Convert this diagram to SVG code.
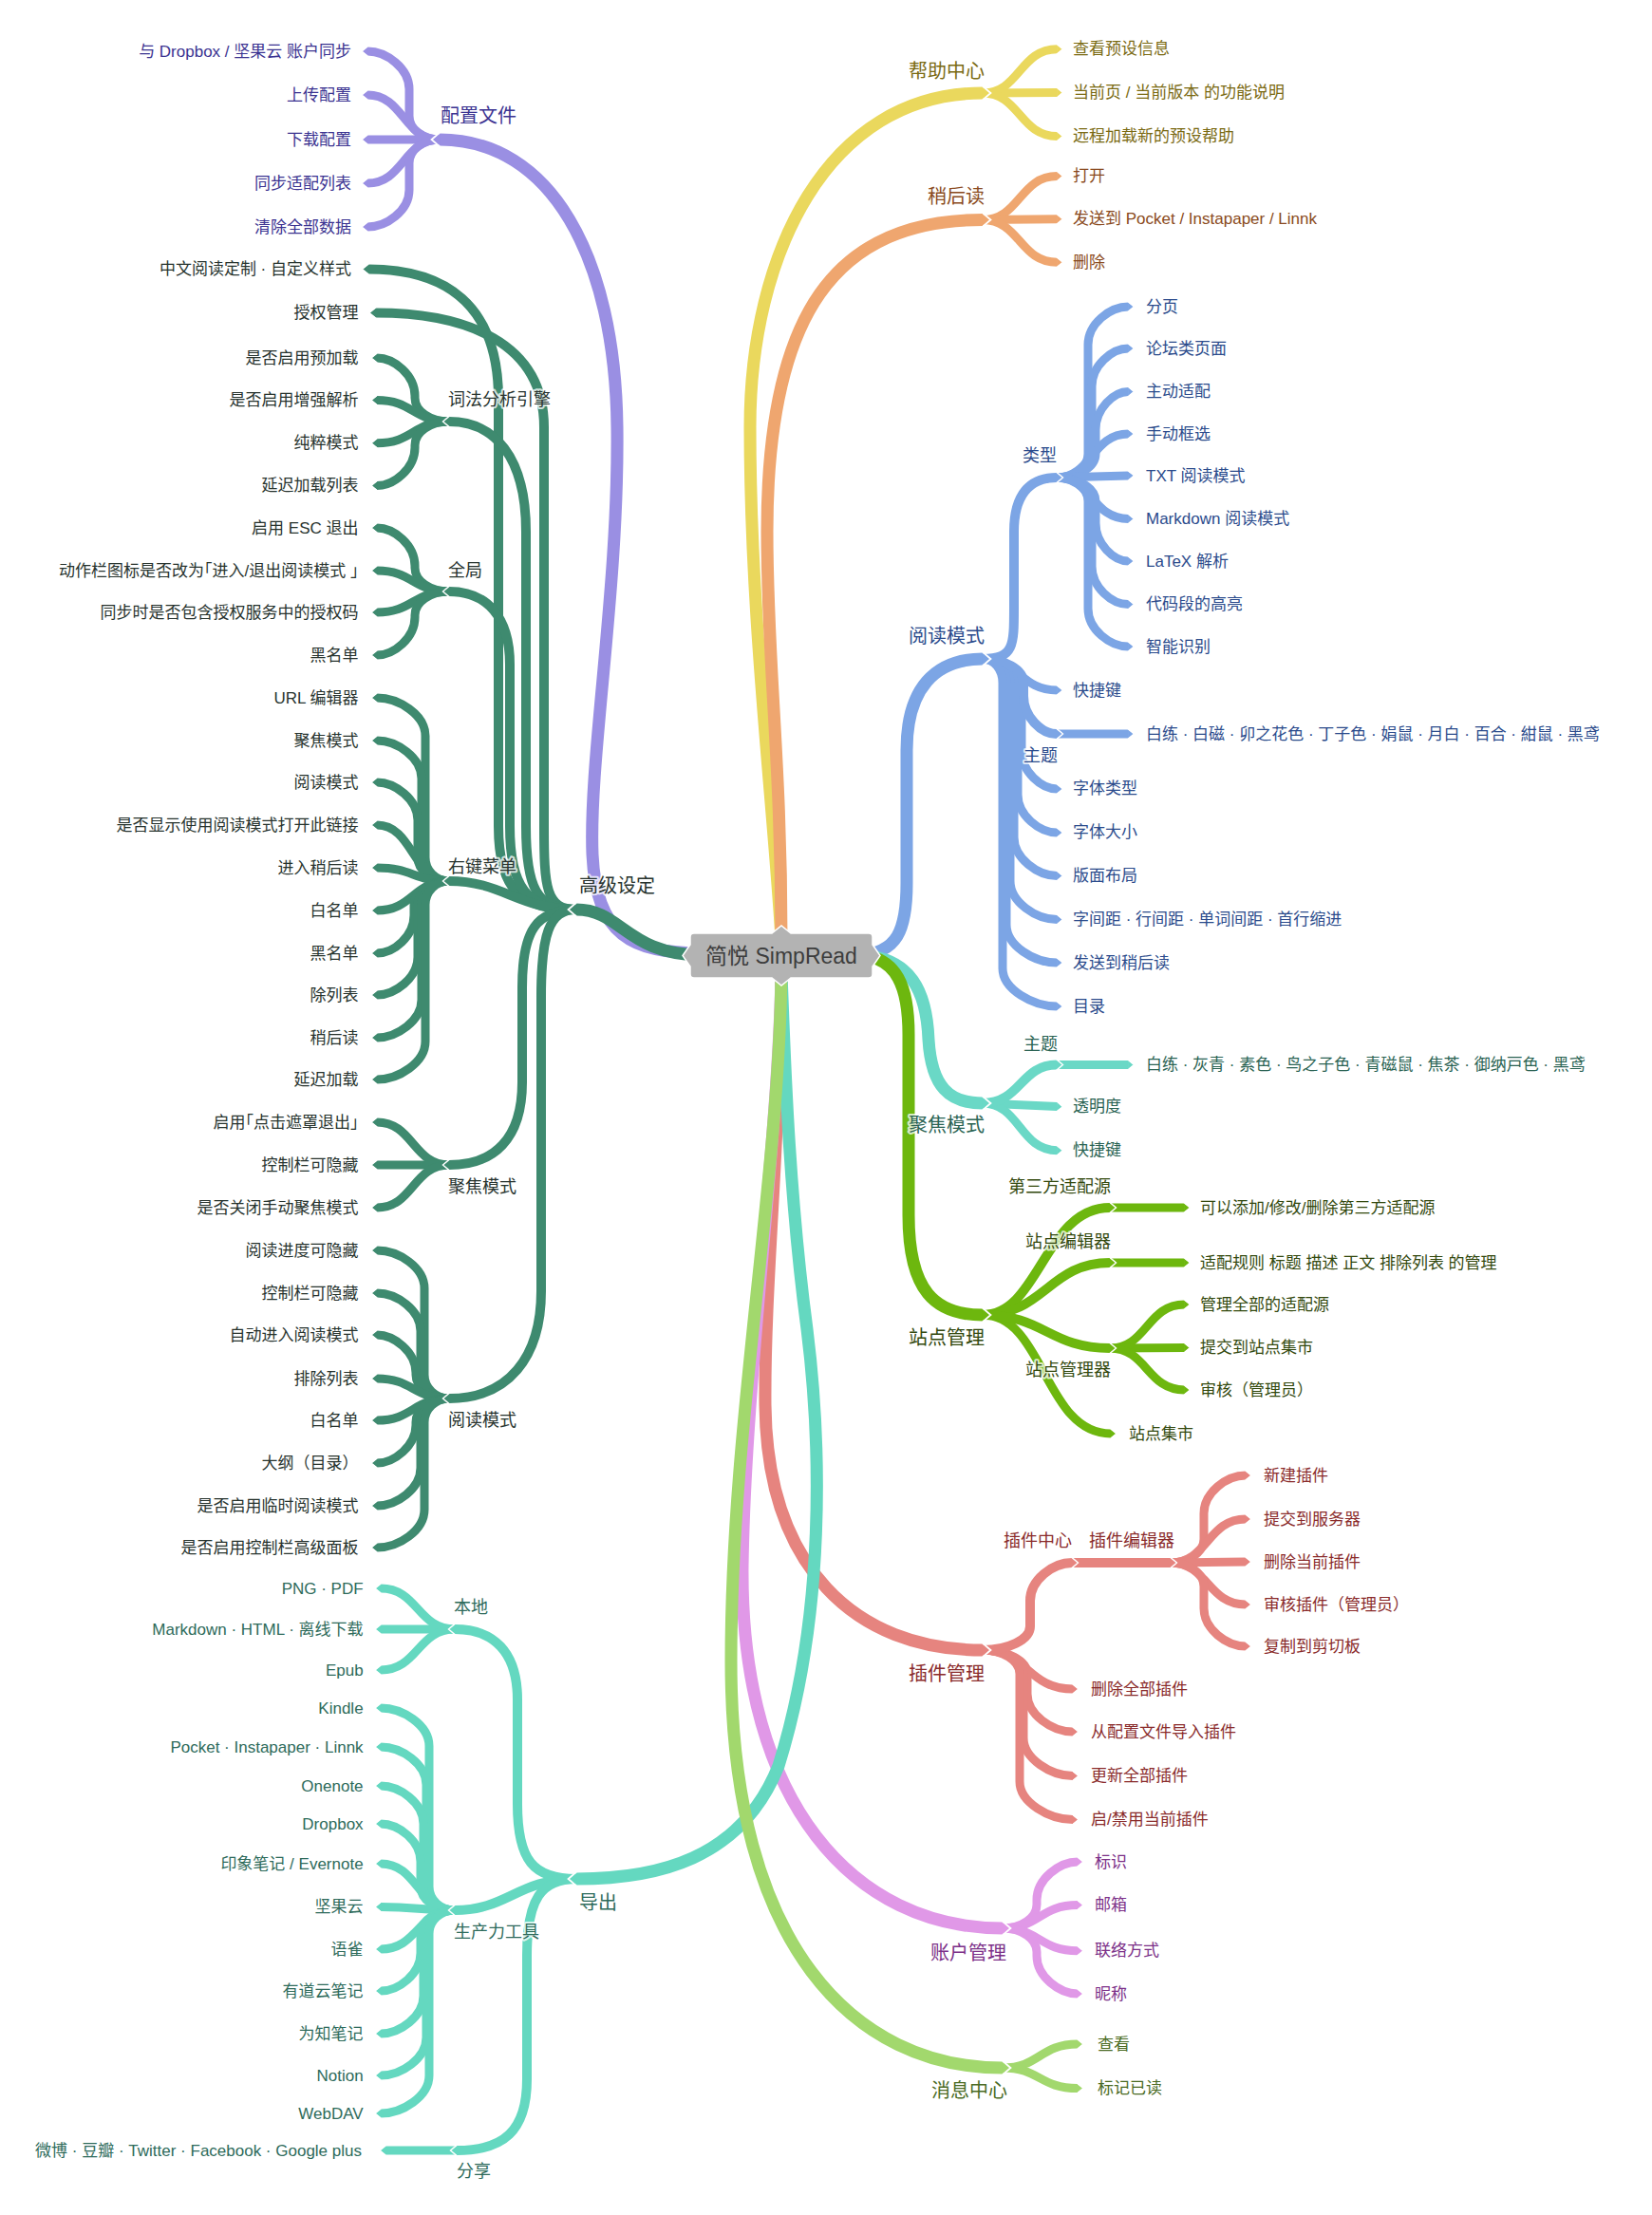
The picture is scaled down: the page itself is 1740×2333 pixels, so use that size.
<svg xmlns="http://www.w3.org/2000/svg" width="1740" height="2333" viewBox="0 0 1740 2333">
<style>
.t{font-family:"Liberation Sans","Noto Sans CJK SC",sans-serif;dominant-baseline:central}
.f17{font-size:17px}.f18{font-size:18px}.f20{font-size:20px}
.e{text-anchor:end}
.hw{font-feature-settings:"halt"}
.h{paint-order:stroke;stroke:#fff;stroke-width:4px;stroke-opacity:.75;stroke-linejoin:round}
#connectors path{fill:none;stroke-linecap:butt}
.w13{stroke-width:13px}.w10{stroke-width:10px}.w9{stroke-width:9px}
.pu{stroke:#9a8fe3;marker-end:url(#mpu)}
.dg{stroke:#3e8a6f;marker-end:url(#mdg)}
.te{stroke:#64d8c0;marker-end:url(#mte)}
.ye{stroke:#ead85d;marker-end:url(#mye)}
.or{stroke:#efa66f;marker-end:url(#mor)}
.bl{stroke:#7ca5e5;marker-end:url(#mbl)}
.tr{stroke:#6ad8c6;marker-end:url(#mtr)}
.gr{stroke:#6db70e;marker-end:url(#mgr)}
.rd{stroke:#e6847f;marker-end:url(#mrd)}
.vi{stroke:#e098e7;marker-end:url(#mvi)}
.lg{stroke:#a2d86d;marker-end:url(#mlg)}
.tpu{fill:#3b3391}.tdg{fill:#27332e}.tte{fill:#2e6b5b}.tye{fill:#7a6a12}.tor{fill:#8a4a20}
.tbl{fill:#2b4b8c}.ttr{fill:#2a6353}.tgr{fill:#33490e}.trd{fill:#8a2b2b}.tvi{fill:#7c3088}.tlg{fill:#4a6b24}
.wt{fill:none;stroke:#fff;stroke-width:.14}
</style>
<defs>
<marker id="mpu" markerUnits="strokeWidth" orient="auto" overflow="visible" markerWidth="1" markerHeight="1"><path d="M-0.05,-0.5L0.65,0L-0.05,0.5Z" fill="#9a8fe3"/><path class="wt" d="M-0.1,-0.64L0.65,0L-0.1,0.64"/></marker>
<marker id="mdg" markerUnits="strokeWidth" orient="auto" overflow="visible" markerWidth="1" markerHeight="1"><path d="M-0.05,-0.5L0.65,0L-0.05,0.5Z" fill="#3e8a6f"/><path class="wt" d="M-0.1,-0.64L0.65,0L-0.1,0.64"/></marker>
<marker id="mte" markerUnits="strokeWidth" orient="auto" overflow="visible" markerWidth="1" markerHeight="1"><path d="M-0.05,-0.5L0.65,0L-0.05,0.5Z" fill="#64d8c0"/><path class="wt" d="M-0.1,-0.64L0.65,0L-0.1,0.64"/></marker>
<marker id="mye" markerUnits="strokeWidth" orient="auto" overflow="visible" markerWidth="1" markerHeight="1"><path d="M-0.05,-0.5L0.65,0L-0.05,0.5Z" fill="#ead85d"/><path class="wt" d="M-0.1,-0.64L0.65,0L-0.1,0.64"/></marker>
<marker id="mor" markerUnits="strokeWidth" orient="auto" overflow="visible" markerWidth="1" markerHeight="1"><path d="M-0.05,-0.5L0.65,0L-0.05,0.5Z" fill="#efa66f"/><path class="wt" d="M-0.1,-0.64L0.65,0L-0.1,0.64"/></marker>
<marker id="mbl" markerUnits="strokeWidth" orient="auto" overflow="visible" markerWidth="1" markerHeight="1"><path d="M-0.05,-0.5L0.65,0L-0.05,0.5Z" fill="#7ca5e5"/><path class="wt" d="M-0.1,-0.64L0.65,0L-0.1,0.64"/></marker>
<marker id="mtr" markerUnits="strokeWidth" orient="auto" overflow="visible" markerWidth="1" markerHeight="1"><path d="M-0.05,-0.5L0.65,0L-0.05,0.5Z" fill="#6ad8c6"/><path class="wt" d="M-0.1,-0.64L0.65,0L-0.1,0.64"/></marker>
<marker id="mgr" markerUnits="strokeWidth" orient="auto" overflow="visible" markerWidth="1" markerHeight="1"><path d="M-0.05,-0.5L0.65,0L-0.05,0.5Z" fill="#6db70e"/><path class="wt" d="M-0.1,-0.64L0.65,0L-0.1,0.64"/></marker>
<marker id="mrd" markerUnits="strokeWidth" orient="auto" overflow="visible" markerWidth="1" markerHeight="1"><path d="M-0.05,-0.5L0.65,0L-0.05,0.5Z" fill="#e6847f"/><path class="wt" d="M-0.1,-0.64L0.65,0L-0.1,0.64"/></marker>
<marker id="mvi" markerUnits="strokeWidth" orient="auto" overflow="visible" markerWidth="1" markerHeight="1"><path d="M-0.05,-0.5L0.65,0L-0.05,0.5Z" fill="#e098e7"/><path class="wt" d="M-0.1,-0.64L0.65,0L-0.1,0.64"/></marker>
<marker id="mlg" markerUnits="strokeWidth" orient="auto" overflow="visible" markerWidth="1" markerHeight="1"><path d="M-0.05,-0.5L0.65,0L-0.05,0.5Z" fill="#a2d86d"/><path class="wt" d="M-0.1,-0.64L0.65,0L-0.1,0.64"/></marker>
</defs>
<rect width="1740" height="2333" fill="#fff"/>
<g id="connectors">
<g id="leaves">
<path class="pu w9" d="M463,147C445,147 431,136 431,122L431,94C431,72 407,54 387,54"/>
<path class="pu w9" d="M463,147C425,147 425,100 387,100"/>
<path class="pu w9" d="M463,147L387,147"/>
<path class="pu w9" d="M463,147C425,147 425,193 387,193"/>
<path class="pu w9" d="M463,147C445,147 431,158 431,172L431,200C431,222 407,239 387,239"/>
<path class="dg w9" d="M473,444C453,444 437,433 437,419L437,417C437,395 415,377 397,377"/>
<path class="dg w9" d="M473,444C435,444 435,421.5 397,421.5"/>
<path class="dg w9" d="M473,444C435,444 435,466.7 397,466.7"/>
<path class="dg w9" d="M473,444C453,444 437,455 437,469L437,471.5C437,493.5 415,511.5 397,511.5"/>
<path class="dg w9" d="M473,623C453,623 437,612 437,598L437,596C437,574 415,556 397,556"/>
<path class="dg w9" d="M473,623C435,623 435,601 397,601"/>
<path class="dg w9" d="M473,623C435,623 435,645 397,645"/>
<path class="dg w9" d="M473,623C453,623 437,634 437,648L437,650C437,672 415,690 397,690"/>
<path class="dg w9" d="M473,928C459,928 448,917 448,903L448,775C448,753 420,735 397,735"/>
<path class="dg w9" d="M473,928C457,928 444,917 444,903L444,820C444,798 418,780 397,780"/>
<path class="dg w9" d="M473,928C455,928 440,917 440,903L440,864C440,842 416,824 397,824"/>
<path class="dg w9" d="M473,928C435,928 435,869 397,869"/>
<path class="dg w9" d="M473,928C435,928 435,914 397,914"/>
<path class="dg w9" d="M473,928C435,928 435,959 397,959"/>
<path class="dg w9" d="M473,928C453,928 436,939 436,953L436,964C436,986 415,1004 397,1004"/>
<path class="dg w9" d="M473,928C455,928 440,939 440,953L440,1008C440,1030 416,1048 397,1048"/>
<path class="dg w9" d="M473,928C457,928 444,939 444,953L444,1053C444,1075 418,1093 397,1093"/>
<path class="dg w9" d="M473,928C459,928 448,939 448,953L448,1097C448,1119 420,1137 397,1137"/>
<path class="dg w9" d="M473,1227C435,1227 435,1182 397,1182"/>
<path class="dg w9" d="M473,1227L397,1227"/>
<path class="dg w9" d="M473,1227C435,1227 435,1272 397,1272"/>
<path class="dg w9" d="M473,1473C459,1473 447,1462 447,1448L447,1357C447,1335 420,1317 397,1317"/>
<path class="dg w9" d="M473,1473C457,1473 443,1462 443,1448L443,1402C443,1380 418,1362 397,1362"/>
<path class="dg w9" d="M473,1473C454,1473 438,1462 438,1448L438,1446C438,1424 415,1406 397,1406"/>
<path class="dg w9" d="M473,1473C435,1473 435,1452 397,1452"/>
<path class="dg w9" d="M473,1473C435,1473 435,1496 397,1496"/>
<path class="dg w9" d="M473,1473C454,1473 438,1484 438,1498L438,1501C438,1523 415,1541 397,1541"/>
<path class="dg w9" d="M473,1473C457,1473 443,1484 443,1498L443,1546C443,1568 418,1586 397,1586"/>
<path class="dg w9" d="M473,1473C459,1473 447,1484 447,1498L447,1590C447,1612 420,1630 397,1630"/>
<path class="te w9" d="M479,1716C440,1716 440,1673 401,1673"/>
<path class="te w9" d="M479,1716L401,1716"/>
<path class="te w9" d="M479,1716C440,1716 440,1759 401,1759"/>
<path class="te w9" d="M479,2012C464,2012 452,2001 452,1987L452,1839C452,1817 424,1799 401,1799"/>
<path class="te w9" d="M479,2012C462,2012 449,2001 449,1987L449,1880C449,1858 423,1840 401,1840"/>
<path class="te w9" d="M479,2012C461,2012 446,2001 446,1987L446,1921C446,1899 421,1881 401,1881"/>
<path class="te w9" d="M479,2012C459,2012 443,2001 443,1987L443,1961C443,1939 420,1921 401,1921"/>
<path class="te w9" d="M479,2012C440,2012 440,1963 401,1963"/>
<path class="te w9" d="M479,2012C440,2012 440,2008.5 401,2008.5"/>
<path class="te w9" d="M479,2012C440,2012 440,2053 401,2053"/>
<path class="te w9" d="M479,2012C459,2012 443,2023 443,2037L443,2057C443,2079 420,2097 401,2097"/>
<path class="te w9" d="M479,2012C461,2012 446,2023 446,2037L446,2102C446,2124 421,2142 401,2142"/>
<path class="te w9" d="M479,2012C462,2012 449,2023 449,2037L449,2146C449,2168 423,2186 401,2186"/>
<path class="te w9" d="M479,2012C464,2012 452,2023 452,2037L452,2186C452,2208 424,2226 401,2226"/>
<path class="te w9" d="M481,2265L406,2265"/>
<path class="ye w9" d="M1035,98C1074,98 1074,51.7 1113.5,51.7"/>
<path class="ye w9" d="M1035,98L1113.5,97.6"/>
<path class="ye w9" d="M1035,98C1074,98 1074,143.5 1113.5,143.5"/>
<path class="or w9" d="M1035,231.5C1074,231.5 1074,185.6 1113.5,185.6"/>
<path class="or w9" d="M1035,231.5L1113.5,230.8"/>
<path class="or w9" d="M1035,231.5C1074,231.5 1074,276.3 1113.5,276.3"/>
<path class="bl w9" d="M1035,694C1074,694 1074,727 1113.5,727"/>
<path class="bl w9" d="M1035,694C1058,694 1076,705 1076,719L1076,791C1076,813 1097,831 1113.5,831"/>
<path class="bl w9" d="M1035,694C1055,694 1072,705 1072,719L1072,837C1072,859 1095,877 1113.5,877"/>
<path class="bl w9" d="M1035,694C1053,694 1068,705 1068,719L1068,882C1068,904 1093,922.5 1113.5,922.5"/>
<path class="bl w9" d="M1035,694C1051,694 1064,705 1064,719L1064,928C1064,950 1091,968.4 1113.5,968.4"/>
<path class="bl w9" d="M1035,694C1049,694 1060,705 1060,719L1060,974C1060,996 1089,1014 1113.5,1014"/>
<path class="bl w9" d="M1035,694C1047,694 1056,705 1056,719L1056,1020C1056,1042 1088,1060 1113.5,1060"/>
<path class="bl w9" d="M1113,503C1131,503 1146,492 1146,478L1146,363C1146,341 1169,323 1188.5,323"/>
<path class="bl w9" d="M1113,503C1133,503 1150,492 1150,478L1150,407C1150,385 1171,367 1188.5,367"/>
<path class="bl w9" d="M1113,503C1136,503 1154,492 1154,478L1154,452.5C1154,430.5 1173,412.5 1188.5,412.5"/>
<path class="bl w9" d="M1113,503C1150,503 1150,457 1188.5,457"/>
<path class="bl w9" d="M1113,503L1188.5,501"/>
<path class="bl w9" d="M1113,503C1150,503 1150,546.5 1188.5,546.5"/>
<path class="bl w9" d="M1113,503C1136,503 1154,514 1154,528L1154,551C1154,573 1173,591 1188.5,591"/>
<path class="bl w9" d="M1113,503C1133,503 1150,514 1150,528L1150,596.6C1150,618.6 1171,636.6 1188.5,636.6"/>
<path class="bl w9" d="M1113,503C1131,503 1146,514 1146,528L1146,641C1146,663 1169,681 1188.5,681"/>
<path class="bl w9" d="M1113,773L1188.5,773"/>
<path class="tr w9" d="M1113,1121.5L1188.5,1121.5"/>
<path class="tr w9" d="M1035,1162L1113.5,1165.5"/>
<path class="tr w9" d="M1035,1162C1074,1162 1074,1211.7 1113.5,1211.7"/>
<path class="gr w9" d="M1169,1272L1247.5,1272"/>
<path class="gr w9" d="M1169,1330L1247.5,1330"/>
<path class="gr w9" d="M1169,1420C1208,1420 1208,1374 1247.5,1374"/>
<path class="gr w9" d="M1169,1420L1247.5,1419.5"/>
<path class="gr w9" d="M1169,1420C1208,1420 1208,1464 1247.5,1464"/>
<path class="gr w9" d="M1035,1385C1100,1385 1100,1510 1170,1510"/>
<path class="rd w9" d="M1233,1646C1252,1646 1268,1635 1268,1621L1268,1594C1268,1572 1292,1554 1312,1554"/>
<path class="rd w9" d="M1233,1646C1272,1646 1272,1600 1312,1600"/>
<path class="rd w9" d="M1233,1646L1312,1645"/>
<path class="rd w9" d="M1233,1646C1272,1646 1272,1690 1312,1690"/>
<path class="rd w9" d="M1233,1646C1252,1646 1268,1657 1268,1671L1268,1694C1268,1716 1292,1734 1312,1734"/>
<path class="rd w9" d="M1035,1738C1082,1738 1082,1779 1130,1779"/>
<path class="rd w9" d="M1035,1738C1061,1738 1082,1749 1082,1763L1082,1784C1082,1806 1108,1824 1130,1824"/>
<path class="rd w9" d="M1035,1738C1059,1738 1078,1749 1078,1763L1078,1830.5C1078,1852.5 1107,1870.5 1130,1870.5"/>
<path class="rd w9" d="M1035,1738C1056,1738 1074,1749 1074,1763L1074,1876.6C1074,1898.6 1105,1916.6 1130,1916.6"/>
<path class="vi w9" d="M1056,2031C1076,2031 1092,2020 1092,2006L1092,2001C1092,1979 1116,1961 1135,1961"/>
<path class="vi w9" d="M1056,2031C1095,2031 1095,2006.6 1135,2006.6"/>
<path class="vi w9" d="M1056,2031C1095,2031 1095,2054.7 1135,2054.7"/>
<path class="vi w9" d="M1056,2031C1076,2031 1092,2042 1092,2056L1092,2060C1092,2082 1116,2100 1135,2100"/>
<path class="lg w9" d="M1056,2178C1095,2178 1095,2153 1135,2153"/>
<path class="lg w9" d="M1056,2178C1095,2178 1095,2199.5 1135,2199.5"/>
</g>
<g id="branches">
<path class="dg w10" d="M607,958C550,958 525,940 525,870L525,420C525,320 468,283.5 388,283.5"/>
<path class="dg w10" d="M607,958C575,958 573,935 573,870L573,450C573,360 490,329.5 395.5,329.5"/>
<path class="dg w10" d="M607,958C565,958 554,935 554,870L554,560C554,480 520,444 473,444"/>
<path class="dg w10" d="M607,958C555,958 537,935 537,870L537,700C537,650 513,623 473,623"/>
<path class="dg w10" d="M607,958C545,958 530,928 473,928"/>
<path class="dg w10" d="M607,958C565,958 550,980 550,1040L550,1140C550,1200 520,1227 473,1227"/>
<path class="dg w10" d="M607,958C578,958 570,985 570,1050L570,1360C570,1430 535,1473 473,1473"/>
<path class="te w10" d="M607,1979C562,1979 545,1960 545,1900L545,1790C545,1740 520,1716 479,1716"/>
<path class="te w10" d="M607,1979C545,1979 535,2012 479,2012"/>
<path class="te w10" d="M607,1979C570,1979 555,2000 555,2060L555,2190C555,2245 530,2265 481,2265"/>
<path class="bl w10" d="M1035,694C1068,694 1068,680 1068,640L1068,560C1068,520 1085,503 1113,503"/>
<path class="bl w10" d="M1035,694C1058,694 1078,705 1078,719L1078,733C1078,755 1097,773 1113,773"/>
<path class="tr w10" d="M1035,1162C1075,1162 1075,1121.5 1113,1121.5"/>
<path class="gr w10" d="M1035,1385C1095,1385 1100,1272 1169,1272"/>
<path class="gr w10" d="M1035,1385C1100,1385 1105,1330 1169,1330"/>
<path class="gr w10" d="M1035,1385C1100,1385 1105,1420 1169,1420"/>
<path class="rd w10" d="M1129,1646L1233,1646"/>
<path class="rd w10" d="M1035,1738C1062,1738 1085,1727 1085,1713L1085,1686C1085,1664 1109,1646 1129,1646"/>
</g>
<g id="main">
<path class="ye w13" d="M823,990C815,850 790,650 790,450C790,270 870,98 1035,98"/>
<path class="or w13" d="M823,990C823,800 808,700 808,560C808,330 880,231.5 1035,231.5"/>
<path class="pu w13" d="M740,1004C665,1004 628,985 624,900C620,800 652,620 650,450C648,270 580,147 463,147"/>
<path class="dg w13" d="M740,1006C660,1006 655,958 607,958"/>
<path class="bl w13" d="M905,1006C945,1004 955,980 955,930L955,790C955,725 985,694 1035,694"/>
<path class="tr w13" d="M905,1006C960,1008 976,1045 978,1095C981,1145 1000,1162 1035,1162"/>
<path class="gr w13" d="M905,1006C945,1008 957,1040 957,1090L957,1280C957,1360 985,1385 1035,1385"/>
<path class="rd w13" d="M823,1025C822,1200 805,1350 806,1480C808,1650 900,1738 1035,1738"/>
<path class="vi w13" d="M823,1025C820,1200 785,1450 782,1650C780,1900 900,2031 1056,2031"/>
<path class="te w13" d="M823,1025C826,1100 830,1250 850,1400C865,1520 870,1700 820,1860C780,1960 690,1979 607,1979"/>
<path class="lg w13" d="M823,1025C820,1250 770,1500 770,1750C770,2050 900,2178 1056,2178"/>
</g>
</g>
<g id="nodes">
<g id="n-root">
<path d="M731,983L813,983L823,975L833,983L915,983Q919,983 919,987L919,995L927,1006.5L919,1018L919,1026Q919,1030 915,1030L833,1030L823,1038L813,1030L731,1030Q727,1030 727,1026L727,1018L719,1006.5L727,995L727,987Q727,983 731,983Z" fill="#b3b3b3" stroke="#fff" stroke-width="1.5"/>
<text class="t" x="823" y="1007" font-size="23" fill="#3d3d3d" text-anchor="middle">简悦 SimpRead</text>
</g>
<g id="n-cfg"><text class="t f20 tpu h" x="464" y="122">配置文件</text></g>
<g id="n-cfg-1"><text class="t f17 tpu e" x="370" y="54">与 Dropbox / 坚果云 账户同步</text></g>
<g id="n-cfg-2"><text class="t f17 tpu e" x="370" y="100">上传配置</text></g>
<g id="n-cfg-3"><text class="t f17 tpu e" x="370" y="147">下载配置</text></g>
<g id="n-cfg-4"><text class="t f17 tpu e" x="370" y="193">同步适配列表</text></g>
<g id="n-cfg-5"><text class="t f17 tpu e" x="370" y="239">清除全部数据</text></g>
<g id="n-adv"><text class="t f20 tdg h" x="610" y="933">高级设定</text></g>
<g id="n-adv-1"><text class="t f17 tdg e" x="370" y="283.5">中文阅读定制 · 自定义样式</text></g>
<g id="n-adv-2"><text class="t f17 tdg e" x="377.5" y="329.5">授权管理</text></g>
<g id="n-lex"><text class="t f18 tdg h" x="472" y="421">词法分析引擎</text></g>
<g id="n-lex-1"><text class="t f17 tdg e" x="377.5" y="377">是否启用预加载</text></g>
<g id="n-lex-2"><text class="t f17 tdg e" x="377.5" y="421.5">是否启用增强解析</text></g>
<g id="n-lex-3"><text class="t f17 tdg e" x="377.5" y="466.7">纯粹模式</text></g>
<g id="n-lex-4"><text class="t f17 tdg e" x="377.5" y="511.5">延迟加载列表</text></g>
<g id="n-glb"><text class="t f18 tdg h" x="472" y="601">全局</text></g>
<g id="n-glb-1"><text class="t f17 tdg e" x="377.5" y="556">启用 ESC 退出</text></g>
<g id="n-glb-2"><text class="t f17 tdg e hw" x="377.5" y="601">动作栏图标是否改为「进入/退出阅读模式 」</text></g>
<g id="n-glb-3"><text class="t f17 tdg e" x="377.5" y="645">同步时是否包含授权服务中的授权码</text></g>
<g id="n-glb-4"><text class="t f17 tdg e" x="377.5" y="690">黑名单</text></g>
<g id="n-ctx"><text class="t f18 tdg h" x="472" y="913">右键菜单</text></g>
<g id="n-ctx-1"><text class="t f17 tdg e" x="377.5" y="735">URL 编辑器</text></g>
<g id="n-ctx-2"><text class="t f17 tdg e" x="377.5" y="780">聚焦模式</text></g>
<g id="n-ctx-3"><text class="t f17 tdg e" x="377.5" y="824">阅读模式</text></g>
<g id="n-ctx-4"><text class="t f17 tdg e" x="377.5" y="869">是否显示使用阅读模式打开此链接</text></g>
<g id="n-ctx-5"><text class="t f17 tdg e" x="377.5" y="914">进入稍后读</text></g>
<g id="n-ctx-6"><text class="t f17 tdg e" x="377.5" y="959">白名单</text></g>
<g id="n-ctx-7"><text class="t f17 tdg e" x="377.5" y="1004">黑名单</text></g>
<g id="n-ctx-8"><text class="t f17 tdg e" x="377.5" y="1048">除列表</text></g>
<g id="n-ctx-9"><text class="t f17 tdg e" x="377.5" y="1093">稍后读</text></g>
<g id="n-ctx-10"><text class="t f17 tdg e" x="377.5" y="1137">延迟加载</text></g>
<g id="n-fcs"><text class="t f18 tdg h" x="472" y="1250">聚焦模式</text></g>
<g id="n-fcs-1"><text class="t f17 tdg e hw" x="377.5" y="1182">启用「点击遮罩退出」</text></g>
<g id="n-fcs-2"><text class="t f17 tdg e" x="377.5" y="1227">控制栏可隐藏</text></g>
<g id="n-fcs-3"><text class="t f17 tdg e" x="377.5" y="1272">是否关闭手动聚焦模式</text></g>
<g id="n-rdm"><text class="t f18 tdg h" x="472" y="1496">阅读模式</text></g>
<g id="n-rdm-1"><text class="t f17 tdg e" x="377.5" y="1317">阅读进度可隐藏</text></g>
<g id="n-rdm-2"><text class="t f17 tdg e" x="377.5" y="1362">控制栏可隐藏</text></g>
<g id="n-rdm-3"><text class="t f17 tdg e" x="377.5" y="1406">自动进入阅读模式</text></g>
<g id="n-rdm-4"><text class="t f17 tdg e" x="377.5" y="1452">排除列表</text></g>
<g id="n-rdm-5"><text class="t f17 tdg e" x="377.5" y="1496">白名单</text></g>
<g id="n-rdm-6"><text class="t f17 tdg e" x="377.5" y="1541">大纲（目录）</text></g>
<g id="n-rdm-7"><text class="t f17 tdg e" x="377.5" y="1586">是否启用临时阅读模式</text></g>
<g id="n-rdm-8"><text class="t f17 tdg e" x="377.5" y="1630">是否启用控制栏高级面板</text></g>
<g id="n-exp"><text class="t f20 tte h" x="610" y="2004">导出</text></g>
<g id="n-loc"><text class="t f18 tte h" x="478" y="1693">本地</text></g>
<g id="n-loc-1"><text class="t f17 tte e" x="382.6" y="1673">PNG · PDF</text></g>
<g id="n-loc-2"><text class="t f17 tte e" x="382.6" y="1716">Markdown · HTML · 离线下载</text></g>
<g id="n-loc-3"><text class="t f17 tte e" x="382.6" y="1759">Epub</text></g>
<g id="n-prd"><text class="t f18 tte h" x="478" y="2035">生产力工具</text></g>
<g id="n-prd-1"><text class="t f17 tte e" x="382.6" y="1799">Kindle</text></g>
<g id="n-prd-2"><text class="t f17 tte e" x="382.6" y="1840">Pocket · Instapaper · Linnk</text></g>
<g id="n-prd-3"><text class="t f17 tte e" x="382.6" y="1881">Onenote</text></g>
<g id="n-prd-4"><text class="t f17 tte e" x="382.6" y="1921">Dropbox</text></g>
<g id="n-prd-5"><text class="t f17 tte e" x="382.6" y="1963">印象笔记 / Evernote</text></g>
<g id="n-prd-6"><text class="t f17 tte e" x="382.6" y="2008.5">坚果云</text></g>
<g id="n-prd-7"><text class="t f17 tte e" x="382.6" y="2053">语雀</text></g>
<g id="n-prd-8"><text class="t f17 tte e" x="382.6" y="2097">有道云笔记</text></g>
<g id="n-prd-9"><text class="t f17 tte e" x="382.6" y="2142">为知笔记</text></g>
<g id="n-prd-10"><text class="t f17 tte e" x="382.6" y="2186">Notion</text></g>
<g id="n-prd-11"><text class="t f17 tte e" x="382.6" y="2226">WebDAV</text></g>
<g id="n-shr"><text class="t f18 tte h" x="481" y="2287">分享</text></g>
<g id="n-shr-1"><text class="t f17 tte e" x="381" y="2265">微博 · 豆瓣 · Twitter · Facebook · Google plus</text></g>
<g id="n-help"><text class="t f20 tye e h" x="1037" y="74.6">帮助中心</text></g>
<g id="n-help-1"><text class="t f17 tye" x="1130" y="51.7">查看预设信息</text></g>
<g id="n-help-2"><text class="t f17 tye" x="1130" y="97.6">当前页 / 当前版本 的功能说明</text></g>
<g id="n-help-3"><text class="t f17 tye" x="1130" y="143.5">远程加载新的预设帮助</text></g>
<g id="n-later"><text class="t f20 tor e h" x="1037" y="207">稍后读</text></g>
<g id="n-later-1"><text class="t f17 tor" x="1130" y="185.6">打开</text></g>
<g id="n-later-2"><text class="t f17 tor" x="1130" y="230.8">发送到 Pocket / Instapaper / Linnk</text></g>
<g id="n-later-3"><text class="t f17 tor" x="1130" y="276.3">删除</text></g>
<g id="n-read"><text class="t f20 tbl e h" x="1037" y="670">阅读模式</text></g>
<g id="n-type"><text class="t f18 tbl e h" x="1113" y="480">类型</text></g>
<g id="n-type-1"><text class="t f17 tbl" x="1207" y="323">分页</text></g>
<g id="n-type-2"><text class="t f17 tbl" x="1207" y="367">论坛类页面</text></g>
<g id="n-type-3"><text class="t f17 tbl" x="1207" y="412.5">主动适配</text></g>
<g id="n-type-4"><text class="t f17 tbl" x="1207" y="457">手动框选</text></g>
<g id="n-type-5"><text class="t f17 tbl" x="1207" y="501">TXT 阅读模式</text></g>
<g id="n-type-6"><text class="t f17 tbl" x="1207" y="546.5">Markdown 阅读模式</text></g>
<g id="n-type-7"><text class="t f17 tbl" x="1207" y="591">LaTeX 解析</text></g>
<g id="n-type-8"><text class="t f17 tbl" x="1207" y="636.6">代码段的高亮</text></g>
<g id="n-type-9"><text class="t f17 tbl" x="1207" y="681">智能识别</text></g>
<g id="n-read-1"><text class="t f17 tbl" x="1130" y="727">快捷键</text></g>
<g id="n-theme"><text class="t f18 tbl e h" x="1114" y="796">主题</text></g>
<g id="n-theme-1"><text class="t f17 tbl" x="1207" y="773">白练 · 白磁 · 卯之花色 · 丁子色 · 娟鼠 · 月白 · 百合 · 紺鼠 · 黑鸢</text></g>
<g id="n-read-2"><text class="t f17 tbl" x="1130" y="830.7">字体类型</text></g>
<g id="n-read-3"><text class="t f17 tbl" x="1130" y="876.6">字体大小</text></g>
<g id="n-read-4"><text class="t f17 tbl" x="1130" y="922.5">版面布局</text></g>
<g id="n-read-5"><text class="t f17 tbl" x="1130" y="968.4">字间距 · 行间距 · 单词间距 · 首行缩进</text></g>
<g id="n-read-6"><text class="t f17 tbl" x="1130" y="1014">发送到稍后读</text></g>
<g id="n-read-7"><text class="t f17 tbl" x="1130" y="1060">目录</text></g>
<g id="n-focus"><text class="t f20 ttr e h" x="1037" y="1185">聚焦模式</text></g>
<g id="n-ftheme"><text class="t f18 ttr e h" x="1114" y="1100">主题</text></g>
<g id="n-ftheme-1"><text class="t f17 ttr" x="1207" y="1121.5">白练 · 灰青 · 素色 · 鸟之子色 · 青磁鼠 · 焦茶 · 御纳戸色 · 黑鸢</text></g>
<g id="n-focus-1"><text class="t f17 ttr" x="1130" y="1165.5">透明度</text></g>
<g id="n-focus-2"><text class="t f17 ttr" x="1130" y="1211.7">快捷键</text></g>
<g id="n-site"><text class="t f20 tgr e h" x="1037" y="1409">站点管理</text></g>
<g id="n-third"><text class="t f18 tgr e h" x="1170" y="1250">第三方适配源</text></g>
<g id="n-third-1"><text class="t f17 tgr" x="1264" y="1272">可以添加/修改/删除第三方适配源</text></g>
<g id="n-sedit"><text class="t f18 tgr e h" x="1170" y="1308">站点编辑器</text></g>
<g id="n-sedit-1"><text class="t f17 tgr" x="1264" y="1330">适配规则 标题 描述 正文 排除列表 的管理</text></g>
<g id="n-smgr"><text class="t f18 tgr e h" x="1170" y="1443">站点管理器</text></g>
<g id="n-smgr-1"><text class="t f17 tgr" x="1264" y="1374">管理全部的适配源</text></g>
<g id="n-smgr-2"><text class="t f17 tgr" x="1264" y="1419.5">提交到站点集市</text></g>
<g id="n-smgr-3"><text class="t f17 tgr" x="1264" y="1464">审核（管理员）</text></g>
<g id="n-site-1"><text class="t f17 tgr" x="1189" y="1510">站点集市</text></g>
<g id="n-plug"><text class="t f20 trd e h" x="1037" y="1763">插件管理</text></g>
<g id="n-pcen"><text class="t f18 trd e h" x="1129" y="1623">插件中心</text></g>
<g id="n-pedit"><text class="t f18 trd e h" x="1237" y="1623">插件编辑器</text></g>
<g id="n-pedit-1"><text class="t f17 trd" x="1331" y="1554">新建插件</text></g>
<g id="n-pedit-2"><text class="t f17 trd" x="1331" y="1600">提交到服务器</text></g>
<g id="n-pedit-3"><text class="t f17 trd" x="1331" y="1645">删除当前插件</text></g>
<g id="n-pedit-4"><text class="t f17 trd" x="1331" y="1690">审核插件（管理员）</text></g>
<g id="n-pedit-5"><text class="t f17 trd" x="1331" y="1734">复制到剪切板</text></g>
<g id="n-plug-1"><text class="t f17 trd" x="1149" y="1779">删除全部插件</text></g>
<g id="n-plug-2"><text class="t f17 trd" x="1149" y="1824">从配置文件导入插件</text></g>
<g id="n-plug-3"><text class="t f17 trd" x="1149" y="1870.5">更新全部插件</text></g>
<g id="n-plug-4"><text class="t f17 trd" x="1149" y="1916.6">启/禁用当前插件</text></g>
<g id="n-acct"><text class="t f20 tvi e h" x="1060" y="2057">账户管理</text></g>
<g id="n-acct-1"><text class="t f17 tvi" x="1153" y="1961">标识</text></g>
<g id="n-acct-2"><text class="t f17 tvi" x="1153" y="2006.6">邮箱</text></g>
<g id="n-acct-3"><text class="t f17 tvi" x="1153" y="2054.7">联络方式</text></g>
<g id="n-acct-4"><text class="t f17 tvi" x="1153" y="2100">昵称</text></g>
<g id="n-msg"><text class="t f20 tlg e h" x="1061" y="2202">消息中心</text></g>
<g id="n-msg-1"><text class="t f17 tlg" x="1156" y="2153">查看</text></g>
<g id="n-msg-2"><text class="t f17 tlg" x="1156" y="2199.5">标记已读</text></g>
</g>
</svg>
